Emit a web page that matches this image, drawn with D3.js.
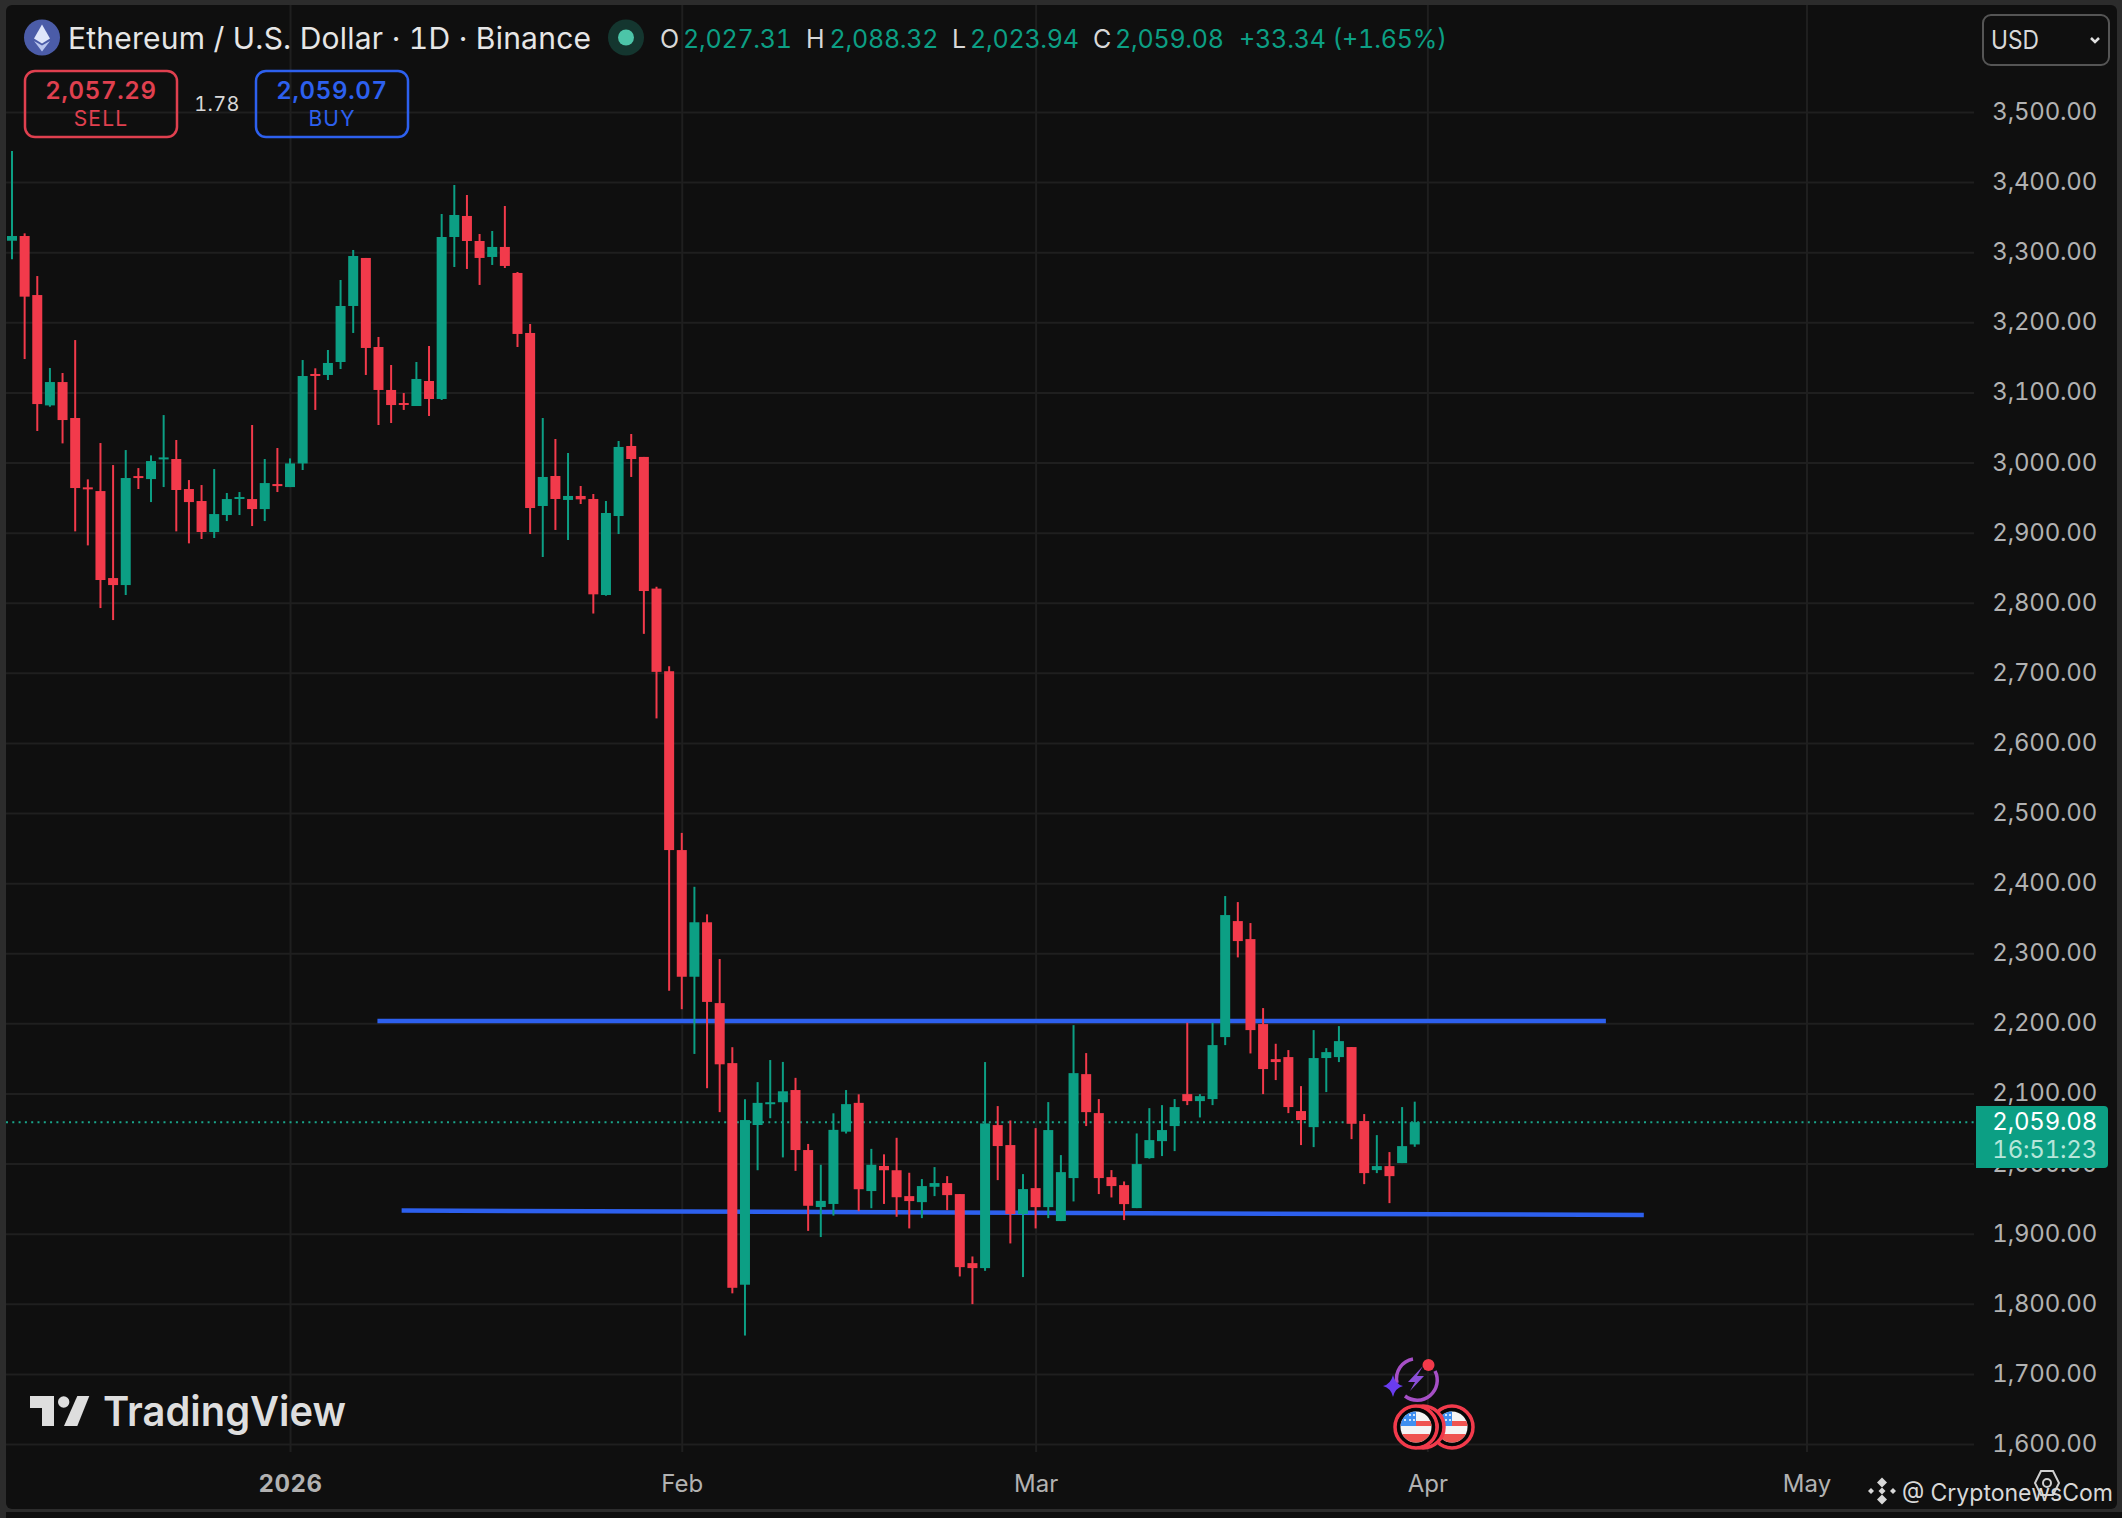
<!DOCTYPE html>
<html>
<head>
<meta charset="utf-8">
<script src="https://cdn.jsdelivr.net/npm/d3@7"></script>
<style>
  html, body { margin: 0; padding: 0; background: #2c2c2c; }
  svg { display: block; }
  text { font-family: Inter, "Noto Sans", sans-serif; font-variant-numeric: tabular-nums; }
</style>
</head>
<body>
<div id="DataVis"></div>
<script>
// daily candles, 10 Dec 2025 to 31 Mar 2026
var firstDay = "2025-12-10";

var opens = [3316.4,3323.1,3238.9,3081.5,3114.8,3063.5,2964.6,2959.3,2835.2,2825.2,2980.7,2976.4,3005,3005,2962.2,2945.1,2900.9,2925.1,2948.4,2947.9,
  2933.6,2969.3,2965,2998.7,3126.3,3124.9,3143.4,3223.3,3291.8,3164.8,3103.5,3084.9,3080.6,3116.3,3090.6,3321.7,3351.7,3316,3293.2,3307.5,
  3270.4,3184.8,2938,2980.8,2946.6,2952.3,2948,2811,2923.7,3023.6,3008,2820.2,2702.3,2447.2,2266.5,2344.2,2228.9,2143.3,1827.2,2055,
  2084.8,2087.5,2104.9,2019.3,1938,1942.4,2045.5,2086.6,1960.8,1996.6,1990.5,1953.6,1945,1966.9,1972.2,1956.5,1858,1850.9,2054.9,2026.4,
  1928,1965,1937.9,1918,1979.3,2127.6,2072,1980.7,1969.3,1936.5,2007.8,2032,2053.5,2099.1,2089.1,2092,2180.4,2345.9,2320.2,2199,
  2149,2151.9,2074.9,2052,2150.5,2151.9,2166.2,2060.6,1990.7,1996.4,2000.7,2027.31];
var highs = [3444.3,3326.9,3266,3134.8,3127.7,3174.7,2976,3027.8,2996.4,3017.8,2992.1,3010.2,3067.7,3032.1,2975,2967.9,2990.7,2956.5,2957.9,3053.5,
  3005,3020.7,3005.9,3146.2,3134.4,3160.5,3260.4,3303.2,3291.8,3179.1,3139.1,3099.2,3143.4,3166.2,3354.5,3395.9,3381.6,3326,3330.3,3365.9,
  3271.8,3197.6,3063.5,3033.6,3013.6,2966.5,2955.1,2945.1,3030.7,3040.7,3008,2822.8,2709.3,2471.7,2394.8,2355.5,2291.8,2166,2091.8,2116.2,
  2147.7,2145,2122.3,2028,1998.3,2071.7,2104.9,2098.8,2021,2013.2,2036.8,1986.9,1977.9,1995,1982.1,1956.5,1867.5,2144.8,2082,2061.5,
  1985,2050.6,2087.7,2012.1,2197.5,2157.6,2092,1990.7,1974.5,2043,2079.1,2083.4,2092,2200.9,2099.1,2200.9,2381.6,2373,2343.1,2221.8,
  2170.9,2161.9,2110.5,2190.4,2164.7,2196.1,2166.2,2070.6,2040.6,2016.4,2080.6,2088.32];
var lows = [3289.8,3147.6,3045,3079.6,3027.3,2901.8,2881.8,2792.4,2775.3,2811,2962.2,2943.6,2965,2901.8,2884.7,2890.9,2892.3,2916.5,2925.1,2909.4,
  2916.5,2957.9,2965,2989.3,3075,3117.7,3133.4,3184.8,3124.9,3053.5,3056.4,3075,3080.6,3066.4,3089.2,3278.9,3276.1,3253.3,3281.8,3277.5,
  3164.8,2898,2865.2,2903.8,2889.5,2940.8,2784.6,2810,2898,2979.4,2755.6,2635,2246.4,2220.2,2156.4,2107.5,2073.4,1814.9,1754.7,1990.5,
  2064.7,2008.8,1989.6,1904,1895.2,1925.8,2042.9,1932,1936.3,1942.4,1924.1,1907.5,1922.2,1953.6,1933.6,1839,1799.5,1847,1976.4,1886.1,
  1838.1,1907.5,1922.2,1918,1946,2053.5,1956.5,1951.7,1919.4,1936.5,2007,2010.7,2017.8,2083.4,2065.8,2083.4,2169,2294.1,2157.1,2099.1,
  2119.1,2072,2026.4,2023.5,2102,2144.8,2034.9,1970.7,1986.4,1943.6,2000.7,2023.94];
var closes = [3323.1,3236.6,3083.4,3114.8,3060.6,2963.6,2962.2,2832.4,2825.2,2977.9,2978.4,3002.1,3007.3,2960.8,2943.6,2900.9,2926.5,2947.9,2950.8,2933.6,
  2970.7,2966.4,2998.7,3123.4,3123.9,3142,3223.3,3294.6,3163.4,3103.5,3082,3082.5,3119.2,3090.6,3321.7,3353.1,3316,3291.8,3307.5,3280.4,
  3183.4,2935.1,2979.4,2948,2952.3,2947.5,2812,2928,3022.2,3005,2816.7,2701.4,2447.2,2266.5,2344.2,2230.6,2141.6,1822.8,2062.1,2086.6,
  2087.5,2103.1,2019.3,1939.8,1946.8,2048.1,2084.8,1963.4,1998.3,1990.5,1952,1946.5,1967.9,1972.2,1955,1852.3,1850.9,2057.3,2025,1928,
  1963.6,1937.9,2047.8,1987.8,2129,2073.4,1979.3,1967.9,1942.2,1999.3,2033.5,2047.8,2080.6,2089.1,2096.2,2169,2354.5,2317.4,2190.4,2134.8,
  2144.8,2080.6,2062.1,2150.5,2159,2174.7,2056.8,1986.4,1996.4,1982.1,2024.9,2059.08];

var priceTicks = [1600,1700,1800,1900,2000,2100,2200,2300,2400,2500,2600,2700,2800,2900,3000,3100,3200,3300,3400,3500];
var monthTicks = ["2026-01-01","2026-02-01","2026-03-01","2026-04-01","2026-05-01"];
var monthLabels = ["2026","Feb","Mar","Apr","May"];

// the two hand drawn range lines
var trendDates = [["2026-01-07T22:00Z","2026-04-15T03:00Z"],["2026-01-09T20:00Z","2026-04-18T03:00Z"]];
var trendPrices = [[2203.3,2203.3],[1933,1926.6]];

var lastPrice = 2059.08;

var green = "#0c9f84", red = "#f23a4b", blue = "#2d60ee", bg = "#0f0f0f";

var parseDay = function(s) { return new Date(s.length > 10 ? s : s + "T00:00Z"); };

var days = d3.utcDay.range(parseDay(firstDay), d3.utcDay.offset(parseDay(firstDay), opens.length));
var candles = days.map(function(d, i) {
    return {date: d, open: opens[i], high: highs[i], low: lows[i], close: closes[i]};
});

var x = d3.scaleUtc()
    .domain([parseDay(firstDay), parseDay("2026-05-01")])
    .range([12, 1806.5]);

var y = d3.scaleLinear()
    .domain([1600, 3500])
    .range([1444, 112]);

var svg = d3.select("#DataVis")
    .append("svg")
    .attr("width", 2122)
    .attr("height", 1518);

// panel
svg.append("rect").attr("width", 2122).attr("height", 1518).attr("fill", "#2c2c2c");
svg.append("rect")
    .attr("x", 6).attr("y", 5)
    .attr("width", 2111).attr("height", 1504)
    .attr("rx", 6)
    .attr("fill", bg);
svg.append("rect").attr("x", 6).attr("y", 1512).attr("width", 2116).attr("height", 6).attr("fill", bg);

// grid
var grid = svg.append("g");
grid.append("g")
    .attr("transform", "translate(6,0)")
    .call(d3.axisRight(y).tickValues(priceTicks).tickSize(1968).tickFormat(""))
    .call(function(g) { g.select(".domain").remove(); })
    .selectAll("line").attr("stroke", "#1f1f1f").attr("stroke-width", 2);
grid.append("g")
    .attr("transform", "translate(0,1452)")
    .call(d3.axisTop(x).tickValues(monthTicks.map(parseDay)).tickSize(1447).tickFormat(""))
    .call(function(g) { g.select(".domain").remove(); })
    .selectAll("line").attr("stroke", "#1f1f1f").attr("stroke-width", 2);

// price axis
var priceAxis = svg.append("g")
    .attr("transform", "translate(2097,0)")
    .call(d3.axisLeft(y).tickValues(priceTicks).tickSize(0).tickPadding(0).tickFormat(d3.format(",.2f")));
priceAxis.select(".domain").remove();
priceAxis.selectAll("text")
    .attr("fill", "#b2b2b2")
    .attr("font-size", 24)
    .attr("font-family", "Inter")
    .attr("letter-spacing", -0.2)
    .attr("dy", 7.5);

// time axis
var timeAxis = svg.append("g")
    .attr("transform", "translate(0,1492)")
    .call(d3.axisBottom(x).tickValues(monthTicks.map(parseDay)).tickSize(0).tickPadding(0)
        .tickFormat(function(d, i) { return monthLabels[i]; }));
timeAxis.select(".domain").remove();
timeAxis.selectAll("text")
    .attr("y", 0).attr("dy", 0)
    .attr("fill", "#b2b2b2")
    .attr("font-size", 24)
    .attr("font-family", "Inter")
    .attr("letter-spacing", function(d, i) { return i == 0 ? 0.5 : 0; })
    .attr("font-weight", function(d, i) { return i == 0 ? 700 : 400; });

// last price line
svg.append("line")
    .attr("x1", 6).attr("x2", 1974)
    .attr("y1", y(lastPrice)).attr("y2", y(lastPrice))
    .attr("stroke", "#1aa58a").attr("stroke-width", 2)
    .attr("stroke-dasharray", "2 4.3");

// range lines
svg.append("g").selectAll("line")
    .data(trendPrices)
    .join("line")
    .attr("x1", function(d, i) { return x(parseDay(trendDates[i][0])); })
    .attr("x2", function(d, i) { return x(parseDay(trendDates[i][1])); })
    .attr("y1", function(d) { return y(d[0]); })
    .attr("y2", function(d) { return y(d[1]); })
    .attr("stroke", blue)
    .attr("stroke-width", 4.5);

// candles
var candleColor = function(d) { return d.close >= d.open ? green : red; };
var candle = svg.append("g").selectAll("g").data(candles).join("g");
candle.append("line")
    .attr("x1", function(d) { return x(d.date); })
    .attr("x2", function(d) { return x(d.date); })
    .attr("y1", function(d) { return y(d.high); })
    .attr("y2", function(d) { return y(d.low); })
    .attr("stroke", candleColor)
    .attr("stroke-width", 2);
candle.append("rect")
    .attr("x", function(d) { return x(d.date) - 5; })
    .attr("width", 10)
    .attr("y", function(d) { return y(Math.max(d.open, d.close)); })
    .attr("height", function(d) { return Math.max(2, Math.abs(y(d.open) - y(d.close))); })
    .attr("fill", candleColor);

// header
var logo = svg.append("g").attr("transform", "translate(42,37.5)");
logo.append("circle").attr("r", 18).attr("fill", "#4b5ca8");
logo.append("path").attr("d", "M0,-13 L8,1 L0,6 L-8,1 Z").attr("fill", "#dfe6fa");
logo.append("path").attr("d", "M0,8 L8,3.5 L0,14 L-8,3.5 Z").attr("fill", "#b9c5ee");

svg.append("text")
    .attr("x", 68).attr("y", 49)
    .attr("font-size", 30)
    .attr("fill", "#e6e6e6")
    .attr("textLength", 523).attr("lengthAdjust", "spacing")
    .text("Ethereum / U.S. Dollar · 1D · Binance");

svg.append("circle").attr("cx", 626).attr("cy", 37.5).attr("r", 18).attr("fill", "#14362f");
svg.append("circle").attr("cx", 626).attr("cy", 37.5).attr("r", 8).attr("fill", "#4cc5a8");

var ohlcLabels = ["O","H","L","C"];
var ohlcValues = ["2,027.31","2,088.32","2,023.94","2,059.08"];
var ohlcX = [660,806,952,1093];
var ohlcValueX = [683,829.5,970,1115];
svg.append("g").selectAll("text").data(ohlcLabels).join("text")
    .attr("x", function(d, i) { return ohlcX[i]; }).attr("y", 48)
    .attr("font-size", 25).attr("fill", "#d8d8d8")
    .text(function(d) { return d; });
svg.append("g").selectAll("text").data(ohlcValues).join("text")
    .attr("x", function(d, i) { return ohlcValueX[i]; }).attr("y", 48)
    .attr("font-size", 25).attr("fill", green)
    .attr("textLength", 109).attr("lengthAdjust", "spacing")
    .text(function(d) { return d; });
svg.append("text")
    .attr("x", 1239).attr("y", 48)
    .attr("font-size", 25).attr("fill", green)
    .attr("textLength", 208).attr("lengthAdjust", "spacing")
    .text("+33.34 (+1.65%)");

// sell and buy boxes
function tradeBox(left, color, price, label) {
    svg.append("rect")
        .attr("x", left).attr("y", 71)
        .attr("width", 152).attr("height", 66)
        .attr("rx", 10)
        .attr("fill", "none").attr("stroke", color).attr("stroke-width", 2.5);
    svg.append("text")
        .attr("x", left + 76).attr("y", 99)
        .attr("text-anchor", "middle")
        .attr("font-size", 24).attr("font-weight", 600).attr("fill", color)
        .attr("letter-spacing", 0.7)
        .text(price);
    svg.append("text")
        .attr("x", left + 76).attr("y", 126)
        .attr("text-anchor", "middle")
        .attr("font-size", 21).attr("fill", color)
        .attr("letter-spacing", 1.2)
        .text(label);
}
tradeBox(25, "#e0404f", "2,057.29", "SELL");
tradeBox(256, blue, "2,059.07", "BUY");
svg.append("text")
    .attr("x", 217).attr("y", 111)
    .attr("text-anchor", "middle")
    .attr("font-size", 20).attr("fill", "#d8d8d8")
    .attr("letter-spacing", 0.3)
    .text("1.78");

// currency button
svg.append("rect")
    .attr("x", 1983).attr("y", 15)
    .attr("width", 126).attr("height", 50)
    .attr("rx", 8)
    .attr("fill", bg).attr("stroke", "#555").attr("stroke-width", 2);
svg.append("text")
    .attr("x", 1991).attr("y", 49)
    .attr("font-size", 25).attr("fill", "#d8d8d8")
    .attr("textLength", 48).attr("lengthAdjust", "spacingAndGlyphs")
    .text("USD");
svg.append("path")
    .attr("d", "M2091,38 L2095,42 L2099,38")
    .attr("fill", "none").attr("stroke", "#e0e0e0").attr("stroke-width", 2.5);

// last price tag
svg.append("path")
    .attr("d", "M1976,1106 H2104 a4,4 0 0 1 4,4 V1164 a4,4 0 0 1 -4,4 H1976 Z")
    .attr("fill", green);
svg.append("text")
    .attr("x", 2097).attr("y", 1130)
    .attr("text-anchor", "end")
    .attr("font-size", 24).attr("fill", "#ffffff")
    .attr("letter-spacing", -0.2)
    .text(d3.format(",.2f")(lastPrice));
svg.append("text")
    .attr("x", 2097).attr("y", 1158)
    .attr("text-anchor", "end")
    .attr("font-size", 24).attr("fill", "#b5e6da")
    .attr("letter-spacing", -0.2)
    .text("16:51:23");

// TradingView mark
var tv = svg.append("g").attr("fill", "#dedede");
tv.append("path").attr("d", "M30,1396 H54 V1426 H42 V1408 H30 Z");
tv.append("circle").attr("cx", 63.7).attr("cy", 1402).attr("r", 5.7);
tv.append("path").attr("d", "M77.3,1396 H89.3 L77.3,1426 H64 Z");
tv.append("text")
    .attr("x", 103).attr("y", 1426)
    .attr("font-size", 41).attr("font-weight", 600)
    .attr("textLength", 243).attr("lengthAdjust", "spacingAndGlyphs")
    .text("TradingView");

// event icons
var bolt = svg.append("g").attr("transform", "translate(1416,1379)");
bolt.append("path")
    .attr("d", "M-3,-20 A20,20 0 0 0 -19,4 M-11,17 A20,20 0 0 0 19,-8")
    .attr("fill", "none").attr("stroke", "#a64fc6").attr("stroke-width", 3.5);
bolt.append("path")
    .attr("d", "M7,-13 L-8,3 H-1 L-6,12 L8,-3 H1 Z")
    .attr("fill", "#8a4fd8");
bolt.append("path")
    .attr("d", "M-23,-4 Q-21,5 -13,7 Q-21,9 -23,18 Q-25,9 -33,7 Q-25,5 -23,-4 Z")
    .attr("fill", "#6a3cf0");
bolt.append("circle").attr("cx", 12.5).attr("cy", -14).attr("r", 6).attr("fill", red);

var flagCenters = [1452, 1423, 1416];
var defs = svg.append("defs");
flagCenters.forEach(function(cx, i) {
    defs.append("clipPath").attr("id", "flag" + i)
        .append("circle").attr("cx", cx).attr("cy", 1427).attr("r", 15.5);
    svg.append("circle").attr("cx", cx).attr("cy", 1427).attr("r", 21).attr("fill", bg).attr("stroke", red).attr("stroke-width", 3.5);
    svg.append("circle").attr("cx", cx).attr("cy", 1427).attr("r", 17.5).attr("fill", "none").attr("stroke", "#050505").attr("stroke-width", 2.5);
    var flag = svg.append("g").attr("clip-path", "url(#flag" + i + ")");
    flag.append("rect").attr("x", cx - 16).attr("y", 1411).attr("width", 32).attr("height", 32).attr("fill", "#f4f4f4");
    flag.append("rect").attr("x", cx - 16).attr("y", 1421).attr("width", 32).attr("height", 5).attr("fill", "#ef5350");
    flag.append("rect").attr("x", cx - 16).attr("y", 1434).attr("width", 32).attr("height", 9).attr("fill", "#ef5350");
    flag.append("rect").attr("x", cx - 16).attr("y", 1411).attr("width", 16).attr("height", 15).attr("fill", "#3f8ff0");
    [[-11,1415],[-6,1415],[-2,1415],[-11,1420],[-6,1420],[-2,1420]].forEach(function(s) {
        flag.append("circle").attr("cx", cx + s[0]).attr("cy", s[1]).attr("r", 1).attr("fill", "#fff");
    });
});

// source stamp
var gear = svg.append("g").attr("transform", "translate(2047,1483)").attr("fill", "none").attr("stroke", "#cfcfcf").attr("stroke-width", 2);
gear.append("path").attr("d", "M-6,-12 H6 L12,0 L6,12 H-6 L-12,0 Z");
gear.append("circle").attr("r", 4);

var stamp = svg.append("g").attr("transform", "translate(1882,1491)").attr("fill", "#d8d8d8");
[[0,-8.5,5],[-11,0,3],[11,0,3],[0,0,3.5],[0,8.5,5]].forEach(function(s) {
    stamp.append("path").attr("d", "M" + s[0] + "," + (s[1] - s[2]) + " l" + s[2] + "," + s[2] + " l" + (-s[2]) + "," + s[2] + " l" + (-s[2]) + "," + (-s[2]) + " Z");
});
svg.append("text")
    .attr("x", 1902).attr("y", 1501)
    .attr("font-size", 24)
    .attr("font-family", "Noto Sans")
    .attr("fill", "#d8d8d8")
    .attr("textLength", 211).attr("lengthAdjust", "spacingAndGlyphs")
    .text("@ CryptonewsCom");
</script>
</body>
</html>
